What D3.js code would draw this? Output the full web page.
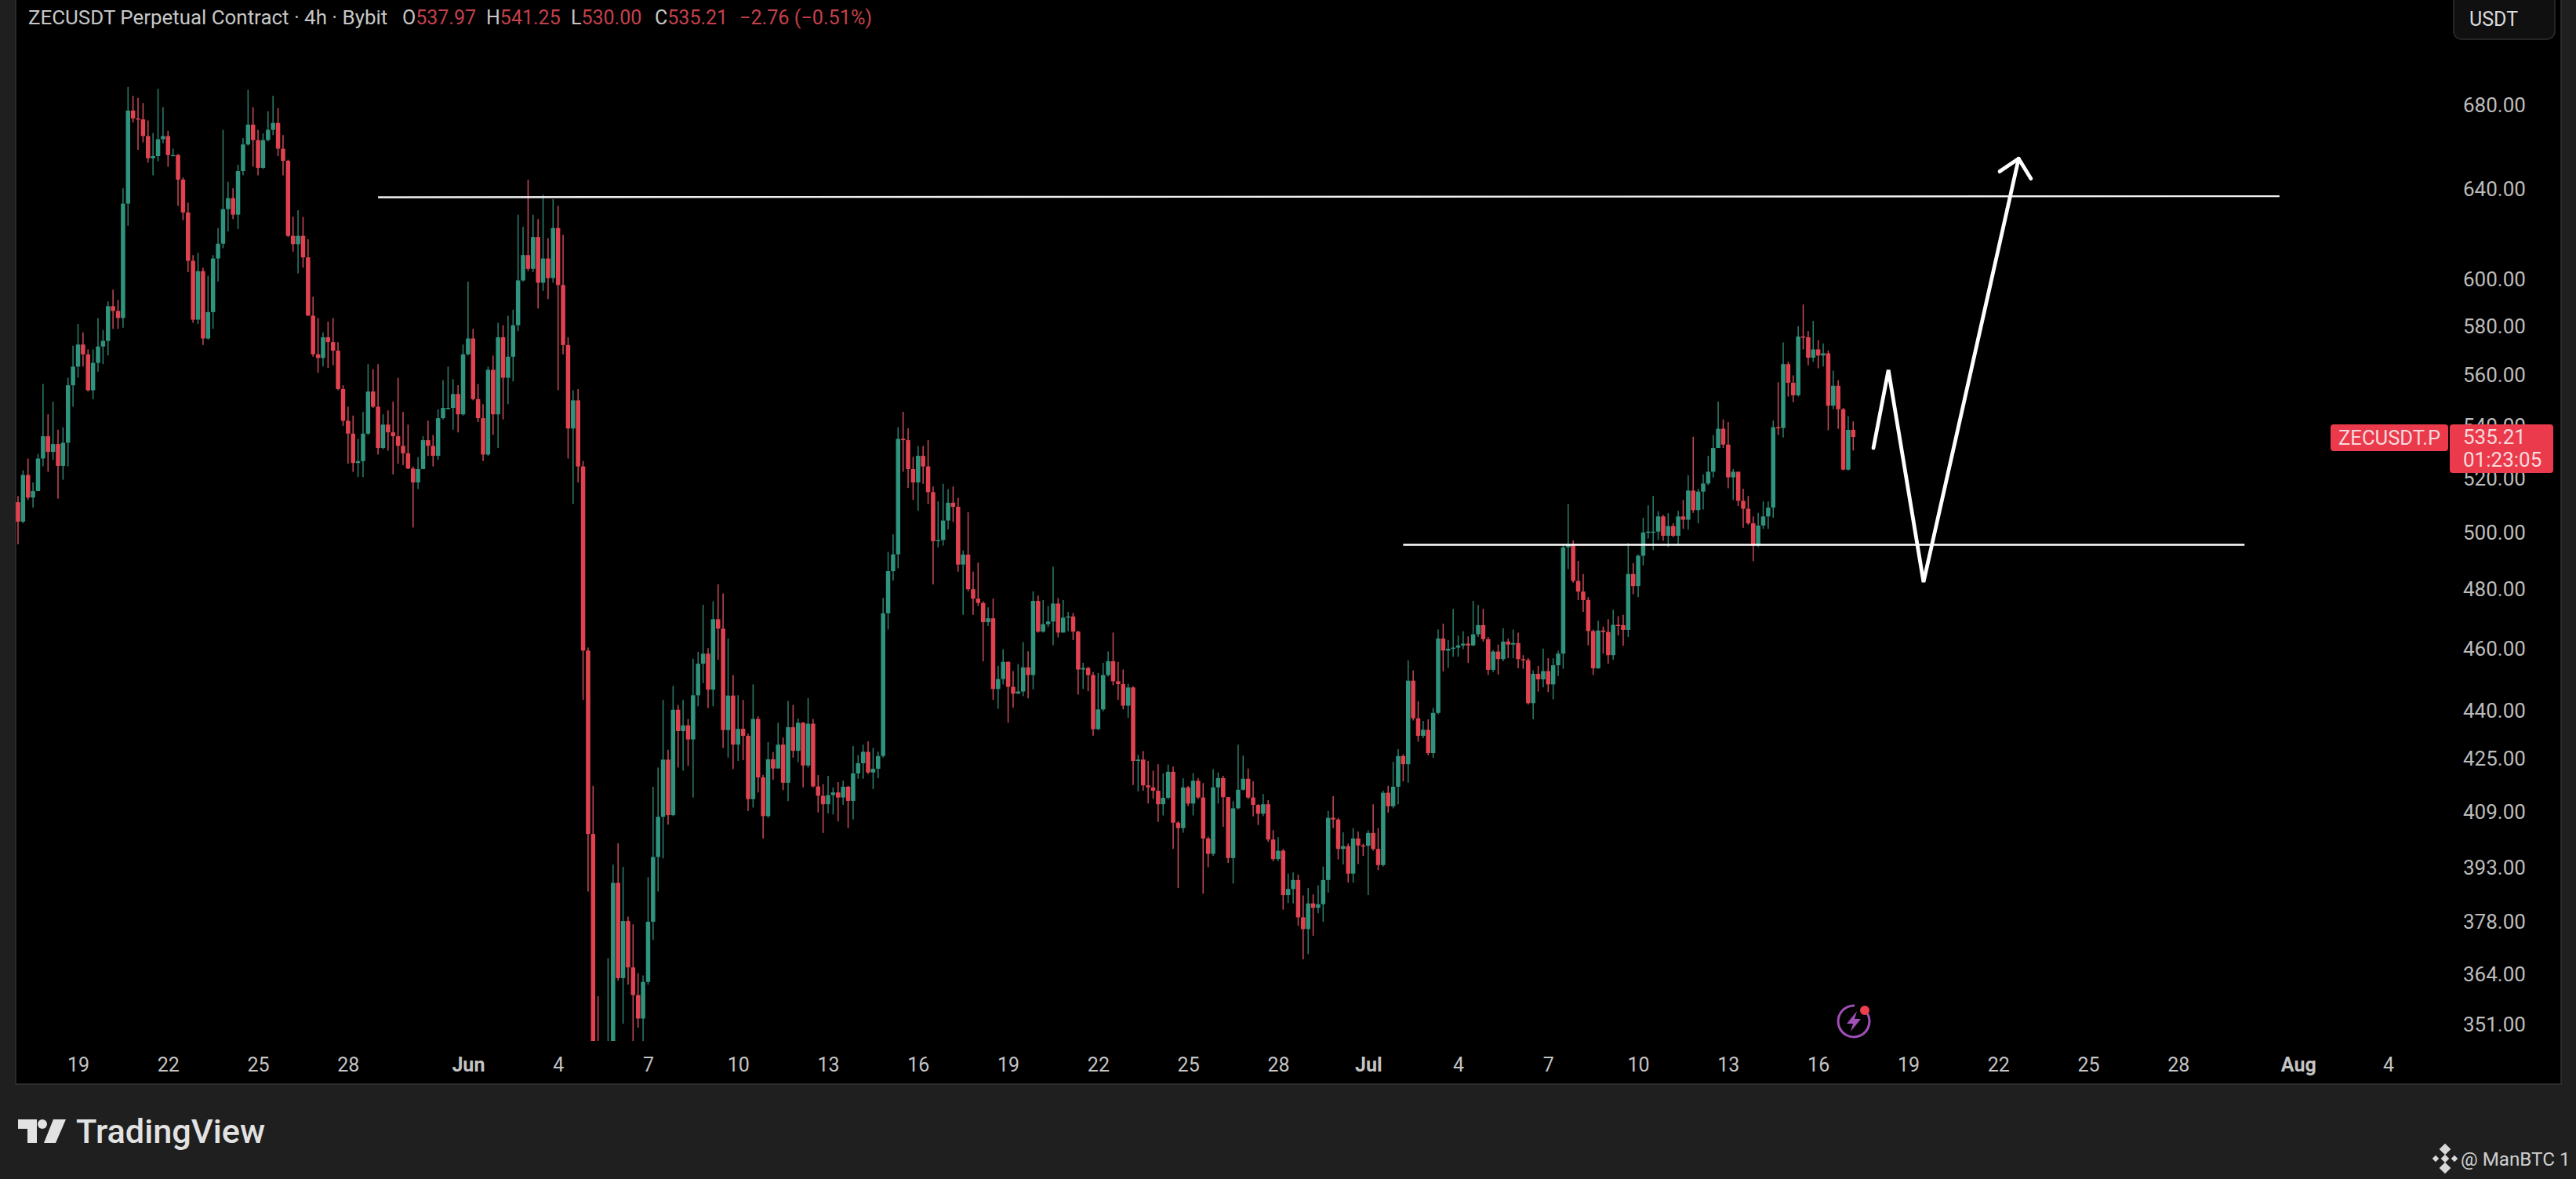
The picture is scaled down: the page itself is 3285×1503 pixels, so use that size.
<!DOCTYPE html>
<html><head><meta charset="utf-8">
<script src="https://cdn.jsdelivr.net/npm/d3@7"></script>
<style>html,body{margin:0;padding:0;background:#1f1f1f;overflow:hidden}svg{display:block}text{font-family:Roboto,sans-serif}</style>
</head><body>
<svg id="c" width="3285" height="1503"></svg>
<script>
const firstOpen = 510.7;
const closes = [503.6,520.8,512.4,514.8,527,535.5,529.5,532.5,524.2,533,
555.5,563,572,568,553.5,564.5,571.2,573.5,588,586,
583,633,676.8,673,672.5,664.5,654,655,663,664.5,
655.5,655.5,644,629,607.5,582.3,603,574.5,585.5,608.5,
615,630.5,635.5,628,648,660.5,670,662.6,649.5,662.6,
667.5,670.8,658.5,652.8,618.5,614.8,618.5,609,584,568,
566.5,575,573,569.5,554,541.5,536.5,525.3,526,536.5,
553,547,531,540,537,535.5,531.8,529,523.2,518,
523,534,531.8,528,542.5,546.5,546.5,552,544,568,
574.5,550,542.5,528.5,561.7,544,575,558.5,567,580,
599,610,604,618,598,608.5,600,622,597,571.8,
538.5,549.5,524,459,402.3,322,312,318,325,388.4,
362.7,377.9,365.5,358.3,352.3,361.7,377.7,395.7,407.3,424.4,
407.8,439.9,433.2,435,430.6,444.5,454.7,458,446.3,469.5,
466.3,433.5,444.4,429,433.9,431.7,412.5,437,419,407.5,
424.5,421.7,429,417.4,434.4,427.1,435.8,422.6,435.5,416.3,
413.5,411,413.7,414.5,413,416.2,412,420.2,423.3,426.8,
420.5,421.6,425.5,471.5,486,491.9,534.5,534,523,518,
528,524,514.4,496.6,497,504,510.5,509,488.3,491.8,
479.7,476.5,475,468.5,469.8,446.5,449.7,455.3,447.2,445,
445.7,453.5,451,475.7,465.3,467.8,468.7,474.8,465,470,
470.4,465.3,452.8,453.3,451,433.8,440,451,455.5,449,
448.1,441.2,447,424,424.4,416.6,416,415,411,412.9,
420.7,405.6,404,416,411.2,418,413,401,396.6,416,
418.8,413.1,395.4,409.8,415.3,418.6,413,410.8,408.2,411,
400.7,395.1,397.5,385,386.7,389.2,378.9,375.7,382.7,381.5,
382.5,389.2,407,406.5,398,398.8,391,401,399,398.9,
402.6,398,393.4,414.4,410.4,416.2,425.5,423,449.2,437.2,
431.7,433.6,426.4,438.9,463,459,459.6,460,460.7,461.3,
460.7,464.4,467.5,462.8,452.7,458.7,456.2,462,461,461.5,
456.2,455.9,442,451.4,449.6,452.3,448,454.2,458,494.4,
495.5,482.6,478.9,476,465.5,453.2,465.7,465.2,457.5,467.6,
467.5,465.9,485,480.8,491.4,499.7,500,500,505.5,498.5,
502,498.5,505.5,504.3,515,507.8,514.6,517.6,522,531,
538.4,532.3,519.9,522,511.2,508.3,503,495,502.2,505.5,
508.7,539,538.7,564,556.5,551.5,575.3,575,566.6,570,
567.5,568.4,547.4,555.3,546,522.8,537.97,535.21];
const highs = [513,522.5,527,518,528.7,556,544,549,538,539,
558.5,571.5,580.5,577,570,570,583,578,590,595,
590.7,640,688.4,684,683,680.5,672,666,687.5,678.5,
667,658.5,656,645,633.5,610,611,604.5,601,610,
622,667.5,643,640,651,663.6,687,678.5,667.5,665.8,
676.5,684,678,665,653.3,627,630,627,617,592,
583,577,581.5,583,573,555.5,547,543.5,534.5,545,
564,562,564,544,545.5,549,558.5,545,540,524,
527.5,535.5,541.5,536,546,557.5,563,558,555.5,572,
598.5,578.5,556,548,563,567.5,581,580,584,586.5,
628,622.5,644,628,626,637,617.5,635,632,619,
575,553.5,554,526,460,416.5,358,330,368,393.5,
399.6,392.9,379.1,377,364,363.4,390,416.2,422,443,
427.4,447.5,441.4,443,437,456.3,458.6,474.4,459.8,475.6,
481.4,478.3,463,451,444.5,443,432.4,448,437.8,419.8,
429.8,426.7,435.8,431.2,442.7,441.4,437.2,436,443.6,437,
419.7,417,419.5,416,417.6,418,416.5,428.6,425.8,429,
430,428,426.9,476.7,492.8,499,539,545,538.6,527.6,
531.8,531.8,534,516.5,511,517.5,515.5,516.5,512.3,493.3,
507,485.8,489,475.6,473.5,476.5,454,459.5,455.5,452.3,
454.6,461.8,458.8,479,477.5,476,474,487.5,476.7,476,
472,471.6,465.6,455,453.7,452,451.7,455,458.7,465,
455.3,452.8,448.2,447.4,425.8,427,424,421,423,420.2,
422.9,422.3,406,418.7,416.4,420.3,418.8,417.3,401.5,421.5,
420.5,419.5,412.2,411.9,429,425.6,421.7,417.9,411,414,
412.2,403.4,401.4,398,391,391.3,390.7,384.9,387,385.2,
387.7,393,409,413.4,407,402.8,399.5,404,403,399.5,
403.4,411,404,415,416.5,423.7,427.6,426,455.8,452.5,
442.6,436.4,436.9,440.5,466,468,462.5,473,464,465.4,
463.7,475.7,474.3,473,463.5,459.2,461,466.4,463,466,
465,457.5,456.5,452.5,454,459.7,456.5,456.5,459,495.5,
510,496.9,489.6,485,477,466,469,467,469.5,472.7,
470.5,471,495.9,488.8,491.8,505,509.5,513,507.4,506,
506.7,503,507.5,511.5,520.7,535.3,515.7,521,528,536,
549,542,541,523,522,515.7,513,505.5,506.8,511,
511,541.5,556.7,572.9,565,559.5,579.6,588.7,577.6,581.8,
573.8,572.5,569.6,561.4,557.5,546.5,543.3,541.25];
const lows = [495.5,503,511.5,508.7,517.5,524,522,526.5,512,519,
524,547,558.5,563,553,550,561,564,567.5,578.5,
578.5,579,623,671,658,661.5,652,646,652.5,661,
650,655,632,625.5,602.5,581,580.5,571.8,574,578.5,
598.6,613,620.5,626,621.5,646,660,650,646,649,
662,665,655,646,618,611.5,602,604.5,584,567,
560.5,563,562.5,563.5,553.5,539.5,525,522,520,520,
536,546.5,528.5,530.5,530,521,525,524.5,523,501.5,
515.5,523,528,524,526.5,542,546,538,537,543.5,
567.5,549.5,541,526,528,536,531,542,548,557,
577.5,598.5,603,602.5,587,594.5,591,598,553.5,568,
527,510,518,443,386,315,305,300,310,320,
362,351,361,345,350,345,361,372.8,386,395.3,
405,407.5,422,421,422.5,413,441,448.4,440.4,441,
456,428,425,421.5,424,424.2,409,410,414.5,401,
407,418.3,421.7,415.2,411.9,425,423.6,416,422,416,
408.6,402.6,408.3,408,406,410.8,404,406.5,418.6,418.6,
420,415.5,418.8,425,466,482.7,487,522,516,511.5,
507.5,517.5,510,481.4,494.4,495,500.8,503.5,485.8,471,
479,471,474,455.5,467.2,443,440.2,448,435.8,440.5,
445,444.2,443.5,446.4,465,465,466.8,460.8,463.4,465,
465.4,462.5,444.7,446.5,445.8,431.7,433.5,439.4,450.5,447.7,
443,440,437.3,416.7,414.8,415,411.2,412.6,405.8,407.7,
412.5,398,387,402.7,410.5,407.7,412.5,385.4,392.8,396,
411.2,404.4,394,388.2,409.5,415,412.5,407.4,404.9,407.5,
400,394.5,394.5,381,382.8,382.7,376.6,367.6,369,373.9,
380,377.7,385.7,404,395,393.6,388.5,388.5,393.7,396,
385,397.5,392,393,408.5,409.8,411,417.8,417.4,436.5,
429.9,431,425.7,424.9,438.5,452.2,453.4,457,457,459.5,
455,460.5,463.5,462,451,452,451.2,455.5,456.5,456.5,
453.2,453,441.5,436.9,445.7,447,445.5,443.2,450.7,453,
486.7,482,476,472,460.7,451,453,458,454.7,456,
464,460.6,463.5,478,477,488,497.5,493.4,497,496.7,
494.5,498,495,501,500.7,506.8,503,508,517,519.8,
531,531,515.8,511.5,509.3,501.4,502.5,489.5,494.5,501,
501,505,536,535,551,548.8,551,570,563.5,565,
562.3,563,537.8,546,538.3,522.5,522.5,530];

const priceTicks = [680,640,600,580,560,540,520,500,480,460,440,425,409,393,378,364,351];
const dateTicks = ["2025-05-19","2025-05-22","2025-05-25","2025-05-28","2025-06-01","2025-06-04","2025-06-07","2025-06-10","2025-06-13","2025-06-16","2025-06-19","2025-06-22","2025-06-25","2025-06-28","2025-07-01","2025-07-04","2025-07-07","2025-07-10","2025-07-13","2025-07-16","2025-07-19","2025-07-22","2025-07-25","2025-07-28","2025-08-01","2025-08-04"];
const monthNames = ["Jan","Feb","Mar","Apr","May","Jun","Jul","Aug"];
const legendText = "ZECUSDT Perpetual Contract · 4h · Bybit";
const legendLabels = ["O","H","L","C"];
const legendValues = ["537.97","541.25","530.00","535.21"];
const legendChange = "−2.76 (−0.51%)";
// drawn annotations, in time and price
const upperLineTime = ["2025-05-29T00:00Z","2025-07-31T09:00Z"];
const upperLinePrice = [635.9,636.4];
const lowerLineTime = ["2025-07-02T04:00Z","2025-07-30T05:00Z"];
const lowerLinePrice = [495.3,495.3];
const zigTime = ["2025-07-17T20:10Z","2025-07-18T08:10Z","2025-07-19T12:15Z","2025-07-22T16:20Z"];
const zigPrice = [531,561.6,482.2,653.8];
const headTime = ["2025-07-22T01:10Z","2025-07-22T16:20Z","2025-07-23T02:10Z"];
const headPrice = [647.8,653.8,644.5];

const svg = d3.select("#c");
const x = d3.scaleUtc().domain([new Date("2025-05-19T00:00Z"), new Date("2025-08-04T00:00Z")]).range([99.5,3045.6]);
const y = d3.scaleLog().domain([351,680]).range([1305,132.6]);
const t0 = Date.UTC(2025,4,17);
const candles = closes.map((c,i)=>({t:new Date(t0+i*4*36e5), o:i?closes[i-1]:firstOpen, c, h:highs[i], l:lows[i]}));

svg.append("rect").attr("width",3285).attr("height",1503).attr("fill","#1f1f1f");
svg.append("rect").attr("x",20).attr("y",-2).attr("width",3246).attr("height",1384).attr("fill","#000").attr("stroke","#333").attr("stroke-width",1.5);

svg.append("defs").append("clipPath").attr("id","pane").append("rect").attr("x",20).attr("y",0).attr("width",3100).attr("height",1327);

// axes
const xAxis = d3.axisBottom(x).tickValues(dateTicks.map(d=>new Date(d+"T00:00Z"))).tickSize(0).tickPadding(0)
  .tickFormat(d=>d.getUTCDate()===1?monthNames[d.getUTCMonth()]:String(d.getUTCDate()));
const gx = svg.append("g").attr("transform","translate(0,1366)").call(xAxis);
gx.select(".domain").remove();
gx.selectAll("text").attr("y",0).attr("dy",0).attr("font-size",25).attr("fill","#c4c4c4").attr("font-family","Roboto,sans-serif")
  .attr("font-weight",d=>d.getUTCDate()===1?700:400);

const yAxis = d3.axisRight(y).tickValues(priceTicks).tickSize(0).tickPadding(0).tickFormat(d3.format(".2f"));
const gy = svg.append("g").attr("transform","translate(3141,1.5)").call(yAxis);
gy.select(".domain").remove();
gy.selectAll("text").attr("x",0).attr("font-size",26).attr("fill","#bcbcbc").attr("font-family","Roboto,sans-serif");

// candles
const up="#2f937d", dn="#e0434f", upW="#2d7f6e", dnW="#c84c58";
const pane = svg.append("g").attr("clip-path","url(#pane)");
pane.selectAll("line.w").data(candles).join("line").attr("class","w")
  .attr("x1",d=>x(d.t)).attr("x2",d=>x(d.t)).attr("y1",d=>y(d.h)).attr("y2",d=>y(d.l))
  .attr("stroke",d=>d.c>=d.o?upW:dnW).attr("stroke-width",1.5);
pane.selectAll("rect.b").data(candles).join("rect").attr("class","b")
  .attr("x",d=>x(d.t)-2.75).attr("width",5.5)
  .attr("y",d=>y(Math.max(d.o,d.c))).attr("height",d=>Math.max(1.5,Math.abs(y(d.o)-y(d.c))))
  .attr("fill",d=>d.c>=d.o?up:dn);

// annotations
const ln = d3.line().x(d=>x(new Date(d[0]))).y(d=>y(d[1]));
const drawn = svg.append("g").attr("fill","none").attr("stroke","#fff");
drawn.append("path").attr("d",ln(d3.zip(upperLineTime,upperLinePrice))).attr("stroke-width",2.4).attr("stroke","#eee");
drawn.append("path").attr("d",ln(d3.zip(lowerLineTime,lowerLinePrice))).attr("stroke-width",2.4);
drawn.append("path").attr("d",ln(d3.zip(zigTime,zigPrice))).attr("stroke-width",4.8).attr("stroke-linejoin","miter").attr("stroke-linecap","round");
drawn.append("path").attr("d",ln(d3.zip(headTime,headPrice))).attr("stroke-width",4.8).attr("stroke-linejoin","round").attr("stroke-linecap","round");

// legend
const legY = 31;
const grey="#c6c6c6", red="#c4404c";
svg.append("text").attr("x",36).attr("y",legY).attr("font-size",25.9).attr("fill",grey).text(legendText);
const lx=[513,620,728,835];
legendLabels.forEach((s,i)=>{
  const t=svg.append("text").attr("x",lx[i]).attr("y",legY).attr("font-size",25);
  t.append("tspan").attr("fill",grey).text(s);
  t.append("tspan").attr("fill",red).text(legendValues[i]);
});
svg.append("text").attr("x",943).attr("y",legY).attr("font-size",25.2).attr("fill",red).text(legendChange);

// USDT button
svg.append("rect").attr("x",3129).attr("y",-10).attr("width",129).attr("height",60).attr("rx",10).attr("fill","#101010").attr("stroke","#2e2e2e").attr("stroke-width",1.5);
svg.append("text").attr("x",3149).attr("y",33).attr("font-size",25).attr("font-weight",400).attr("fill","#dcdcdc").text("USDT");

// price tags
const tagC="#ea3a4c", tagT="#f7dadd";
svg.append("rect").attr("x",2972).attr("y",541).attr("width",150).attr("height",34).attr("rx",4).attr("fill",tagC);
svg.append("rect").attr("x",3124).attr("y",541).attr("width",132).attr("height",62).attr("rx",4).attr("fill",tagC);
svg.append("text").attr("x",2982).attr("y",567).attr("font-size",25.6).attr("fill",tagT).text("ZECUSDT.P");
svg.append("text").attr("x",3141).attr("y",566).attr("font-size",26).attr("fill",tagT).text("535.21");
svg.append("text").attr("x",3141).attr("y",595).attr("font-size",26).attr("fill",tagT).text("01:23:05");

// flash icon
const flash = svg.append("g").attr("transform","translate(2364,1302)");
flash.append("path").attr("d",d3.arc()({innerRadius:18.5,outerRadius:21.5,startAngle:0.9,endAngle:Math.PI*2+0.05})).attr("fill","#a24fb8");
flash.append("path").attr("d","M4-13L-9 3H-1L-4 13L9-3H1Z").attr("fill","#a24fb8");
flash.append("circle").attr("cx",14).attr("cy",-14).attr("r",6).attr("fill","#ee3f4e");

// TradingView logo
const tv = svg.append("g").attr("fill","#e2e2e2");
tv.append("path").attr("d","M23 1427H47V1457H35V1439H23Z");
tv.append("circle").attr("cx",54).attr("cy",1433).attr("r",6);
tv.append("path").attr("d","M68 1427H84L71 1457H56Z");
tv.append("text").attr("x",97).attr("y",1457).attr("font-size",43.3).attr("font-weight",500).attr("font-family","Inter,Roboto,sans-serif").text("TradingView");

// watermark
const wm = svg.append("g").attr("transform","translate(3118,1477)").attr("fill","#d8d8d8");
[[0,-12,5.2],[-12,0,3],[12,0,3],[0,12,5.2],[0,0,3.8]].forEach(([a,b,s])=>{
  wm.append("rect").attr("x",a-s).attr("y",b-s).attr("width",2*s).attr("height",2*s).attr("transform",`rotate(45 ${a} ${b})`);
});
svg.append("text").attr("x",3138).attr("y",1486).attr("font-size",24.2).attr("fill","#cfcfcf").attr("font-family","'Open Sans',sans-serif").text("@ ManBTC 1");
</script>
</body></html>
